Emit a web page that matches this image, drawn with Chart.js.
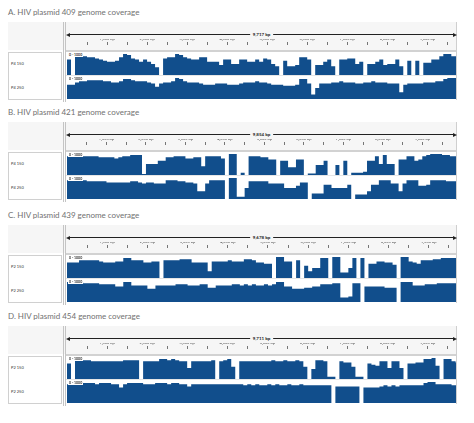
<!DOCTYPE html>
<html lang="en">
<head>
    <meta charset="UTF-8">
    <title>HIV plasmid genome coverage</title>
    <script src="https://cdn.jsdelivr.net/npm/chart.js"></script>
    <style>
        body { margin: 0; background: #fff; font-family: Lato, "Noto Sans", sans-serif; }
        #page { position: relative; width: 474px; height: 423px; overflow: hidden; }
        #page div, #page span, #page canvas { position: absolute; box-sizing: border-box; }
        .title { left: 8px; height: 10px; line-height: 10px; font-size: 8px; color: #707070; white-space: nowrap; }
        .hdr { left: 8px; width: 448px; height: 28px; background: #f6f6f6; }
        .sep { left: 66px; width: 390px; height: 2px; background: #d2d2d2; }
        .box { left: 8px; width: 54px; height: 48px; border: 1px solid #d0d0d0; background: #fff; }
        .vline { width: 1px; height: 80px; background: #c4c4c4; }
        .rline { left: 456px; width: 1px; height: 78px; background: #cfcfcf; }
        .tsep { left: 66px; width: 390px; height: 1px; background: #e6e6e6; }
        .arrow { left: 68px; width: 387px; height: 1px; background: #222; }
        .ahl { width: 0; height: 0; border-top: 2px solid transparent; border-bottom: 2px solid transparent; border-right: 4px solid #222; }
        .ahr { width: 0; height: 0; border-top: 2px solid transparent; border-bottom: 2px solid transparent; border-left: 4px solid #222; }
        .len { font-size: 4.5px; font-weight: bold; color: #222; background: #f6f6f6; padding: 0 3px; line-height: 6px; white-space: nowrap; transform: translateX(-50%); }
        .tname { left: 11px; font-size: 4px; color: #333; line-height: 5px; white-space: nowrap; }
        .range { left: 68px; font-size: 3.5px; font-weight: bold; color: #333; background: #fff; line-height: 4px; padding: 0 1px; white-space: nowrap; z-index: 2; }
    </style>
</head>
<body>
<div id="page"></div>

<script>
    // panel titles, genome lengths and track names
    const TITLES = [
        'A. HIV plasmid 409 genome coverage',
        'B. HIV plasmid 421 genome coverage',
        'C. HIV plasmid 439 genome coverage',
        'D. HIV plasmid 454 genome coverage'
    ];
    const GENOME_BP = [9717, 9854, 9678, 9711];
    const TRACK_NAMES = [['P4 150', 'P4 250'], ['P4 150', 'P4 250'], ['P2 150', 'P2 250'], ['P2 150', 'P2 250']];
    const RANGE_LABEL = '0 - 1000';
    const BIN_BP = 100;      // one value per 100 bp
    const TICK_STEP = 500;   // ruler tick every 500 bp, label every 1000 bp

    // coverage per 100 bp bin (0 - 10 = 0 - 1000 reads)
    const cov409_150 = [7,0,8.5,9,8.5,8,8,7.5,7,6.5, 6,6,6.5,8,9.5,9,7.5,7,6,7, 6,5,3.5,0,7.5,8,8,9.5,9,8,
        7.5,7,7,8,8,6,6,6,4.5,7, 7,5,5,7,7,6,6,7,6,7.5, 7,5,4,0,6.5,4,4,4.5,8,8, 7,0,4.5,4.5,6,7,4,0,7,7,
        7.5,7.5,5,6,0,5,5,6,7,4.5, 5,5,7,4,0,6.5,0,6.5,0,5.5, 5.5,7,7,8.5,9.5,9.5,8.5];
    const cov409_250 = [6.5,6.5,7.5,8,8,8.5,8.5,8.5,8.5,8, 8,7.5,7.5,8,9,9,8.5,8,8,8, 7.5,7,5.5,7,7.5,7.5,8,9.5,9,8,
        7.5,7.5,7.5,7,6.5,6.5,6.5,7,7,7, 6.5,6.5,6.5,7,7.5,7.5,7.5,8,7.5,7.5, 7,6.5,6.5,6.5,6,6,6,6.5,9,9,
        7,2,5,7,7,7,7.5,7.5,8,7.5, 7.5,7.5,7,7,7.5,7.5,8,7.5,7.5,7.5, 7,7,7,3,6.5,7,7,7,7,7.5, 7.5,7.5,8,8,9,9.5,9.5];
    const cov421_150 = [8.5,9,9,9,8.5,8.5,8.5,8.5,8,8, 8,8,7.5,8,8.5,8.5,9,9,9,0.5, 5,5,5,6.5,6.5,8,8,8.5,8.5,8.5,
        7.5,7.5,8,8,4,8.5,8.5,8.5,8.5,7.5, 0,9.5,9.5,0,1,0,8.5,8.5,8.5,8, 8,7,7,0,6.5,6.5,3.5,3.5,7,7,
        0,0.7,0.7,4.5,4.5,6.5,0,0,4.5,0, 6.5,0,1,1,1,1.5,6.5,6.5,8.5,5, 9,5,5,0,7,7,8.5,8.5,6.5,7, 8.5,9,9.5,9.5,9.5,9,9,8.5,8.5];
    const cov421_250 = [8.5,8.5,8.5,8.5,8.5,8,8,8,8,8, 7.5,7.5,7.5,7.5,7.5,7.5,8,8,7.5,7, 7.5,7.5,7,7,7,8.5,8.5,8.5,8,8,
        7.5,7.5,7,3.5,3.5,7,8.5,8.5,8.5,8.5, 0,9.5,9.5,1,1,5,8,8,8,8, 8,7,7,7,7,5,5,5,6,7.5,
        7.5,0,2.5,2.5,2.5,6.5,6.5,5,5,5, 5,6.5,0,2,2,2,3.5,6.5,6.5,8.5, 8.5,8.5,7,7,3.5,7,8.5,8.5,8.5,6, 6,6.5,8.5,8.5,8.5,8.5,8,8,8];
    const cov439_150 = [7,7,7,8,8,8,8,8,7.5,7, 7,7,7.5,7.5,9,9,8,8,8,7, 7,7.5,7.5,0,8,8,8,8,8.5,8.5,
        8.5,7,7,7,7,3,7.5,7.5,7.5,7.5, 8,7.5,7.5,7.5,8.5,8.5,8,7,7,6.5, 6.5,0,9.5,9.5,7.5,7.5,0,8,0,5.5,
        3,4.5,4.5,9,9,0,9.5,9.5,2.5,2.5, 4.5,9,0,9,0,6.5,6.5,7.5,7.5,7, 7,6,0,9.5,9.5,7.5,7,6.5,8,8, 8,8.5,8.5,9,9,9,9];
    const cov439_250 = [9,9,9,9,8.5,8.5,8.5,8.5,8,8, 8,8,7,7,9,9,7.5,7.5,7.5,7.5, 6,6,7.5,7.5,7.5,7.5,7.5,8,8,8,
        7.5,7.5,7.5,8,8,6.5,6.5,7.5,7.5,7.5, 7.5,8,8,7.5,8,7.5,8,7.5,7.5,8, 7.5,8,9,9,7,7,6,6,6,6.5,
        6.5,7,7,8,8,8,8.5,8.5,2,2, 2.5,8.5,8.5,0,7,7,7,7,7,6.5, 6.5,6.5,0,9,9,9,7.5,7.5,7.5,8, 8,8,8.5,8.5,8.5,8.5,8.5];
    const cov454_150 = [7,0,8.5,8.5,8.5,8.5,8,8,8,8, 8,8,8,8,8.5,8.5,8.5,8.5,0,8, 8,8,8,9,9,8.5,9,8.5,8,8,
        5,8,8,8,8,8,8.5,0,8,8.5, 9,5.5,0,8,8,8,8,8,8,8, 8,8.5,8,8,8.5,8,8,8.5,8,5.5,
        0,4.5,8.5,8.5,8,1,1,0,8,7.5, 7.5,5.5,1,1,0,7,6.5,6,8,8, 5,8,8,5,0,7,7,7.5,7.5,9, 9,9.5,6,0,9,9,8,7.5];
    const cov454_250 = [8.5,8.5,8.5,9,9,9,9,8.5,9,9, 9,8.5,8.5,7,8.5,9,9,9,9,8.5, 8.5,8.5,9,9,9,8.5,9,9,8.5,8.5,
        7.5,8.5,8.5,8.5,8.5,8.5,8.5,8.5,8.5,8.5, 8.5,8.5,8.5,8.5,8,8.5,8,8.5,8,8, 8.5,8,8.5,8,8,8.5,8,8,8.5,8,
        8,8,8,8,8,8,0,7.5,7.5,7.5, 7.5,7.5,7.5,0,7,7,7,7,7.5,8, 7.5,8,7.5,8,8,8,8,8,8,9, 9.5,9.5,8.5,8.5,8.5,8.5,8,8];

    const COVERAGE = [[cov409_150, cov409_250], [cov421_150, cov421_250], [cov439_150, cov439_250], [cov454_150, cov454_250]];

    const BAR_BLUE = '#114e8c';
    const Y_MAX = 10.4;
    const PANEL_TOP = [22, 122, 225, 326];
    const page = document.getElementById('page');

    function el(tag, cls, top, extra) {
        const e = document.createElement(tag);
        if (cls) e.className = cls;
        e.style.top = top + 'px';
        if (extra) Object.assign(e.style, extra);
        page.appendChild(e);
        return e;
    }

    function rulerChart(canvas, len) {
        return new Chart(canvas, {
            type: 'line',
            data: { datasets: [] },
            options: {
                responsive: false,
                animation: false,
                layout: { padding: { left: 10, right: 10, top: 17, bottom: 0 } },
                plugins: { legend: { display: false }, tooltip: { enabled: false } },
                scales: {
                    x: {
                        type: 'linear',
                        position: 'top',
                        min: 0,
                        max: len,
                        afterBuildTicks: s => {
                            const t = [];
                            for (let v = TICK_STEP; v < len; v += TICK_STEP) t.push({ value: v });
                            s.ticks = t;
                        },
                        ticks: {
                            autoSkip: false,
                            maxRotation: 0,
                            padding: 1,
                            color: '#444',
                            font: { size: 4, family: 'Roboto' },
                            callback: v => v % 1000 === 0 ? v.toLocaleString('en-US') + ' bp' : ''
                        },
                        grid: { drawOnChartArea: false, tickLength: 3, color: '#555', lineWidth: 0.8 },
                        border: { display: false }
                    },
                    y: { display: false, min: 0, max: 1 }
                }
            }
        });
    }

    function trackChart(canvas, len, values) {
        const pts = values.map((v, i) => ({ x: i * BIN_BP, y: v }));
        pts.push({ x: len, y: values[values.length - 1] });
        return new Chart(canvas, {
            type: 'line',
            data: {
                datasets: [{
                    data: pts,
                    stepped: true,
                    fill: 'origin',
                    backgroundColor: BAR_BLUE,
                    borderColor: BAR_BLUE,
                    borderWidth: 0,
                    pointRadius: 0
                }]
            },
            options: {
                responsive: false,
                animation: false,
                layout: { padding: 0 },
                plugins: { legend: { display: false }, tooltip: { enabled: false } },
                scales: {
                    x: { type: 'linear', min: 0, max: len, display: false },
                    y: { min: 0, max: Y_MAX, display: false }
                }
            }
        });
    }

    TITLES.forEach((title, p) => {
        const T = PANEL_TOP[p];
        const len = GENOME_BP[p];

        el('div', 'title', T - 15).textContent = title;
        el('div', 'hdr', T);
        el('div', 'box', T + 30);
        el('div', 'vline', T, { left: '63px' });
        el('div', 'vline', T, { left: '65px' });
        el('div', 'rline', T);
        el('div', 'sep', T + 28);
        el('div', 'tsep', T + 53);

        // length arrow
        el('div', 'arrow', T + 12);
        el('div', 'ahl', T + 10.5, { left: '66px' });
        el('div', 'ahr', T + 10.5, { left: '453px' });
        el('span', 'len', T + 9.5, { left: '261.5px' }).textContent = len.toLocaleString('en-US') + ' bp';

        const rc = el('canvas', null, T, { left: '57px' });
        rc.width = 409; rc.height = 29;
        rulerChart(rc, len);

        [T + 30, T + 54].forEach((y, k) => {
            const c = el('canvas', null, y, { left: '67px' });
            c.width = 389; c.height = 23;
            trackChart(c, len, COVERAGE[p][k]);
            el('span', 'range', y + 0.5).textContent = RANGE_LABEL;
            el('span', 'tname', y + 9).textContent = TRACK_NAMES[p][k];
        });
    });
</script>
</body>
</html>
